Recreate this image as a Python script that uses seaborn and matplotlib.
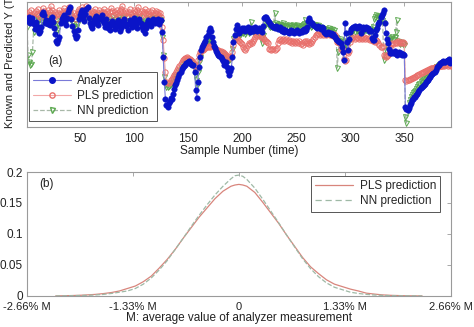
import numpy as np
import pandas as pd
import matplotlib
matplotlib.use("Agg")
import matplotlib.pyplot as plt
import seaborn as sns
from matplotlib.lines import Line2D

# ---------------- data: panel (a) ----------------
analyzer = [
    106,108,110,104,107,109,103,98,105,101,
    97,94,96,100,113,115,112,104,107,103,
    106,102,108,110,105,99,93,86,84,87,
    90,104,108,110,112,106,102,109,115,118,
    120,108,101,96,92,89,91,97,108,112,
    115,117,110,106,113,118,120,109,104,101,
    99,103,107,109,111,105,102,108,110,112,
    106,104,100,108,103,99,101,97,104,106,
    102,98,100,105,107,103,96,99,102,106,
    108,104,101,97,103,107,105,100,102,109,
    106,103,99,105,108,104,100,97,102,94,
    99,104,107,103,105,101,106,108,104,107,
    105,108,103,106,107,95,70,45,28,22,
    20,24,26,29,28,33,38,42,44,47,
    50,53,55,58,60,61,62,64,64,65,
    66,64,63,62,62,55,37,29,45,60,
    70,77,80,82,84,86,90,92,96,99,
    96,90,85,81,79,76,74,72,71,70,
    68,66,62,64,65,60,56,52,56,59,
    70,85,92,98,102,98,94,96,98,99,
    97,99,96,98,100,97,95,98,99,96,
    97,100,98,96,97,99,98,95,101,109,
    110,110,108,106,105,103,102,101,100,99,
    101,100,98,99,100,97,96,98,95,97,
    96,95,94,96,97,95,96,94,95,96,
    97,95,94,96,95,97,98,96,97,100,
    106,109,106,104,104,102,101,100,99,101,
    100,99,98,100,99,95,94,93,95,94,
    93,94,92,93,91,90,88,87,86,85,
    84,80,75,67,104,94,85,77,88,95,
    98,99,100,101,100,99,100,101,100,94,
    99,100,98,99,100,99,96,97,96,89,
    87,87,92,97,99,103,105,110,112,114,
    117,104,94,88,84,78,74,74,75,74,
    76,73,72,74,75,73,74,72,73,72,
    20,18,17,19,22,24,27,28,30,30,
    32,33,35,37,39,40,41,42,43,45,
    46,47,49,50,52,53,54,55,57,60,
    61,62,64,64,65,66,65,65,66,67,
    68,64,65,
]

pls = [
    113,110,115,112,117,111,114,109,116,113,
    118,112,110,115,113,119,116,111,114,117,
    112,115,121,117,113,110,115,112,108,114,
    117,113,111,116,119,114,112,117,115,120,
    118,113,110,114,111,108,113,116,118,114,
    117,120,115,112,118,121,116,113,111,114,
    116,112,115,118,113,110,114,117,115,112,
    115,118,114,111,116,113,110,115,119,116,
    112,115,113,117,114,111,116,118,121,115,
    112,116,114,111,115,118,113,110,114,117,
    115,112,117,120,114,111,116,113,115,118,
    114,112,116,113,111,115,117,112,114,116,
    113,115,112,114,110,100,87,69,55,45,
    44,44,45,47,48,50,52,53,55,57,
    59,61,63,65,67,68,69,69,70,69,
    68,68,67,66,64,62,57,60,67,72,
    75,76,77,77,78,79,80,80,81,80,
    81,82,81,80,79,78,77,77,76,76,
    75,75,74,73,72,71,70,70,69,71,
    75,82,88,90,89,87,86,85,84,83,
    80,78,77,79,82,84,83,85,84,86,
    88,90,92,91,93,92,90,91,89,88,
    86,86,85,84,78,78,77,78,78,77,
    78,79,84,87,88,86,87,88,86,87,
    88,86,87,85,86,84,86,85,84,86,
    85,84,86,83,84,82,85,86,84,86,
    84,83,85,84,86,88,90,92,93,94,
    93,92,94,93,92,94,93,92,93,94,
    92,93,92,91,93,92,90,85,85,84,
    78,77,78,68,66,67,75,74,76,85,
    88,89,90,88,89,90,89,88,90,89,
    88,89,90,88,89,88,89,87,88,87,
    86,86,85,87,86,84,82,80,80,81,
    72,71,70,71,72,74,80,83,84,83,
    84,85,84,86,85,84,85,84,85,84,
    47,46,47,47,48,48,49,49,50,50,
    51,52,52,53,54,54,55,55,56,56,
    57,57,58,58,59,59,59,60,60,60,
    60,61,61,61,61,62,61,62,62,61,
    62,62,61,
]

nn = [
    100,72,65,62,63,75,95,108,104,110,
    106,103,108,111,105,109,113,107,104,110,
    108,112,106,103,109,104,100,95,97,103,
    106,110,108,112,114,109,106,111,113,116,
    112,107,104,101,99,100,103,108,112,110,
    114,116,111,108,114,117,113,110,106,109,
    108,106,110,112,109,107,104,110,112,108,
    110,107,104,109,106,103,105,102,108,110,
    106,103,105,108,110,106,101,104,107,109,
    110,107,105,102,106,110,108,104,106,111,
    109,106,103,108,110,107,104,101,105,100,
    104,107,109,106,108,105,109,110,107,109,
    108,110,106,108,105,90,72,50,42,40,
    40,41,42,43,44,46,48,50,51,52,
    55,57,58,60,62,63,64,65,66,66,
    66,65,64,63,62,52,47,42,55,65,
    70,74,76,78,80,82,84,85,86,86,
    85,83,81,79,78,77,76,76,75,74,
    73,72,71,70,70,69,68,67,68,70,
    78,88,90,92,95,94,93,92,94,95,
    94,96,93,95,97,94,96,105,98,95,
    96,98,97,94,95,93,90,84,92,100,
    103,105,104,103,101,100,101,100,103,114,
    104,102,101,103,100,102,101,104,102,100,
    101,100,102,101,99,101,102,100,101,100,
    102,101,99,100,101,102,103,107,101,102,
    103,101,102,100,101,103,102,100,101,102,
    99,98,100,97,99,98,96,98,97,99,
    97,96,98,95,97,90,90,59,75,86,
    88,86,85,84,86,82,80,84,86,90,
    95,96,97,95,98,96,97,98,96,97,
    95,97,96,98,97,96,95,97,98,96,
    100,108,110,112,109,111,110,108,107,105,
    67,72,76,80,85,87,88,89,90,88,
    90,95,107,86,84,83,85,84,83,82,
    10,4,16,24,27,30,32,34,35,36,
    38,40,42,43,45,46,47,48,50,51,
    52,53,54,55,56,57,58,59,60,60,
    61,62,62,63,63,64,64,65,65,66,
    66,65,66,
]

xticks_a = [50, 100, 150, 200, 250, 300, 350]

# ---------------- data: panel (b) ----------------
err_x = [-2.3, -2.2, -2.1, -2.0, -1.9, -1.8, -1.7, -1.6, -1.5, -1.4, -1.3, -1.2,
         -1.1, -1.0, -0.9, -0.8, -0.7, -0.6, -0.5, -0.4, -0.3, -0.2, -0.1, -0.05,
         0.0, 0.05, 0.1, 0.2, 0.3, 0.4, 0.5, 0.6, 0.7, 0.8, 0.9, 1.0, 1.1, 1.2,
         1.3, 1.4, 1.5, 1.6, 1.7, 1.8, 1.9, 2.0, 2.1, 2.2, 2.3]
pls_pdf = [0.0, 0.0003, 0.0006, 0.001, 0.0017, 0.0025, 0.0038, 0.0055, 0.008,
           0.012, 0.016, 0.023, 0.032, 0.045, 0.059, 0.075, 0.093, 0.110, 0.127,
           0.142, 0.157, 0.169, 0.177, 0.179, 0.180, 0.179, 0.177, 0.167, 0.151,
           0.134, 0.117, 0.098, 0.080, 0.062, 0.047, 0.036, 0.026, 0.019, 0.015,
           0.011, 0.008, 0.0045, 0.003, 0.0017, 0.001, 0.0006, 0.0003, 0.0001, 0.0]
nn_pdf = [0.0, 0.0002, 0.0004, 0.0007, 0.001, 0.0016, 0.0025, 0.004, 0.006,
          0.008, 0.012, 0.019, 0.029, 0.042, 0.057, 0.075, 0.093, 0.112, 0.130,
          0.147, 0.163, 0.177, 0.189, 0.194, 0.195, 0.193, 0.188, 0.174, 0.156,
          0.137, 0.118, 0.098, 0.079, 0.060, 0.044, 0.031, 0.021, 0.014, 0.010,
          0.006, 0.004, 0.0025, 0.0015, 0.0009, 0.0005, 0.0003, 0.0002, 0.0001, 0.0]
xticks_b = [-2.66, -1.33, 0.0, 1.33, 2.66]
xticklabels_b = ["-2.66% M", "-1.33% M", "0", "1.33% M", "2.66% M"]
yticks_b = [0, 0.05, 0.1, 0.15, 0.2]
yticklabels_b = ["0", "0.05", "0.1", "0.15", "0.2"]

# ---------------- style ----------------
sns.set_theme(style="white")
plt.rcParams["font.family"] = ["Liberation Sans", "DejaVu Sans"]
plt.rcParams["font.size"] = 8.5
FS = 8.5
spine_c = "#9a9a9a"
txt_c = "#222222"

fig = plt.figure(figsize=(4.74, 3.27), dpi=100)
ax1 = fig.add_axes([0.057, 0.612, 0.894, 0.382])
ax2 = fig.add_axes([0.057, 0.095, 0.894, 0.379])

# ---------------- panel (a) ----------------
dfa = pd.DataFrame({"s": np.arange(1, len(analyzer) + 1), "v": analyzer})
dfp = pd.DataFrame({"s": np.arange(1, len(pls) + 1), "v": pls})
dfn = pd.DataFrame({"s": np.arange(1, len(nn) + 1), "v": nn})

blue_line = "#7a7ad8"
blue_mk = "#0a14c8"
red_line = "#f2a8a8"
red_mk = "#e8706c"
grn_line = "#a8b8a8"
grn_mk = "#5aa84e"

sns.lineplot(data=dfn, x="s", y="v", ax=ax1, color=grn_line, lw=0.9, ls="--",
             marker="v", ms=3.6, mfc="none", mec=grn_mk, mew=0.7, zorder=2,
             legend=False)
sns.lineplot(data=dfp, x="s", y="v", ax=ax1, color=red_line, lw=0.8,
             marker="o", ms=3.8, mfc="none", mec=red_mk, mew=0.7, zorder=3,
             legend=False)
sns.lineplot(data=dfa, x="s", y="v", ax=ax1, color=blue_line, lw=0.8,
             marker="o", ms=4.0, mfc=blue_mk, mec=blue_mk, mew=0.3, zorder=4,
             legend=False)

ax1.set_xlim(1, 393)
ax1.set_ylim(0, 125)
ax1.set_xticks(xticks_a)
ax1.set_yticks([])
ax1.set_xlabel("Sample Number (time)", fontsize=FS, color=txt_c, labelpad=0)
ax1.set_ylabel("Known and Predicted Y (T)", fontsize=8, color=txt_c)
ax1.yaxis.set_label_coords(-0.028, 0.53)
ax1.text(0.05, 0.50, "(a)", transform=ax1.transAxes, fontsize=FS, color=txt_c)

h1 = [
    Line2D([], [], color=blue_line, lw=0.8, marker="o", ms=4.0, mfc=blue_mk, mec=blue_mk),
    Line2D([], [], color=red_line, lw=0.8, marker="o", ms=3.8, mfc="none", mec=red_mk),
    Line2D([], [], color=grn_line, lw=0.9, ls="--", marker="v", ms=3.6, mfc="none", mec=grn_mk),
]
leg1 = ax1.legend(h1, ["Analyzer", "PLS prediction", "NN prediction"], loc="lower left",
                  bbox_to_anchor=(0.0, 0.03), fontsize=FS, frameon=True, fancybox=False,
                  edgecolor="#555555", framealpha=1, handlelength=3.2, borderpad=0.3,
                  labelspacing=0.25, handletextpad=0.5, borderaxespad=0.2)
leg1.get_frame().set_linewidth(0.7)

# ---------------- panel (b) ----------------
dfb = pd.DataFrame({"x": err_x, "pls": pls_pdf, "nn": nn_pdf})
sns.lineplot(data=dfb, x="x", y="pls", ax=ax2, color="#d8857c", lw=0.9,
             label="PLS prediction")
sns.lineplot(data=dfb, x="x", y="nn", ax=ax2, color="#9fb9a6", lw=0.9, ls="--",
             dashes=(5, 3), label="NN prediction")
ax2.set_xlim(-2.66, 2.66)
ax2.set_ylim(0, 0.2)
ax2.set_xticks(xticks_b)
ax2.set_xticklabels(xticklabels_b)
ax2.set_yticks(yticks_b)
ax2.set_yticklabels(yticklabels_b)
ax2.set_xlabel("M: average value of analyzer measurement", fontsize=FS, color=txt_c, labelpad=0)
ax2.set_ylabel("")
ax2.text(0.03, 0.875, "(b)", transform=ax2.transAxes, fontsize=FS, color=txt_c)
h2 = [Line2D([], [], color="#d8857c", lw=0.9),
      Line2D([], [], color="#9fb9a6", lw=0.9, ls="--", dashes=(5, 3))]
leg2 = ax2.legend(h2, ["PLS prediction", "NN prediction"], loc="upper right",
                  bbox_to_anchor=(0.975, 0.97), fontsize=FS, frameon=True, fancybox=False,
                  edgecolor="#555555", framealpha=1, handlelength=3.2, borderpad=0.35,
                  labelspacing=0.3, handletextpad=0.6, borderaxespad=0.0)
leg2.get_frame().set_linewidth(0.7)

for ax in (ax1, ax2):
    for sp in ax.spines.values():
        sp.set_color(spine_c)
        sp.set_linewidth(0.8)
    ax.tick_params(direction="in", top=True, right=True, length=3, width=0.6,
                   color=spine_c, labelsize=FS, labelcolor=txt_c)
    ax.tick_params(axis="y", pad=3)
    ax.grid(False)
ax1.tick_params(axis="x", pad=4.5)
ax2.tick_params(axis="x", pad=4.5, labelsize=8)

fig.savefig("out.png", dpi=100)
